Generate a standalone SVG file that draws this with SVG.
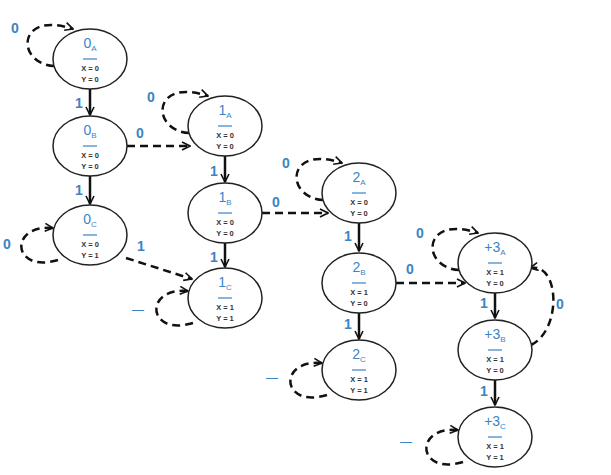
<svg xmlns="http://www.w3.org/2000/svg" width="611" height="475" viewBox="0 0 611 475">
<style>
.n{fill:#fff;stroke:#222;stroke-width:1.5}
.t{font-family:"Liberation Sans",Arial,sans-serif;fill:#3a84c6;font-size:14px;text-anchor:middle}
.s{font-size:8px}
.v{font-family:"Liberation Sans",Arial,sans-serif;font-weight:bold;font-size:7.5px;fill:#333;text-anchor:middle}
.d{fill:none;stroke:#3a84c6;stroke-width:1.2}
.l{font-family:"Liberation Sans",Arial,sans-serif;fill:#3a84c6;font-size:14px;font-weight:bold}
.m{font-family:"Liberation Sans",Arial,sans-serif;fill:#3a84c6;font-size:12px}
.sol{fill:none;stroke:#111;stroke-width:2.5;marker-end:url(#a)}
.das{fill:none;stroke:#111;stroke-width:2.5;stroke-dasharray:8 5;marker-end:url(#a)}
</style>
<defs>
<marker id="a" viewBox="0 0 10 10" refX="9" refY="5" markerWidth="4" markerHeight="4" orient="auto" markerUnits="strokeWidth">
<path d="M1,1 L9,5 L1,9" fill="none" stroke="#111" stroke-width="1.6"/>
</marker>
<g id="shape"><ellipse class="n" cx="0" cy="0" rx="37" ry="30"/><path class="d" d="M-7,0 H7"/></g>
</defs>
<g id="connectors">
<path class="sol" d="M90,89 V115"/>
<path class="sol" d="M90,176 V204"/>
<path class="sol" d="M225,156 V182"/>
<path class="sol" d="M225,243 V267"/>
<path class="sol" d="M359,223 V251"/>
<path class="sol" d="M359,313 V339"/>
<path class="sol" d="M495,293 V318"/>
<path class="sol" d="M495,380 V405"/>
<path class="das" d="M127,146 H190"/>
<path class="das" d="M126,258 L192,279"/>
<path class="das" d="M262,213 H328"/>
<path class="das" d="M396,283 H465"/>
<path class="das" d="M54,66 C16,64 16,10 73,29"/>
<path class="das" d="M189,133 C151,131 151,77 208,96"/>
<path class="das" d="M323,200 C285,198 285,144 342,163"/>
<path class="das" d="M459,270 C421,268 421,214 478,233"/>
<path class="das" d="M58,260 C12,274 8,224 53,228"/>
<path class="das" d="M193,323 C147,337 143,287 188,291"/>
<path class="das" d="M327,395 C281,409 277,359 322,363"/>
<path class="das" d="M463,462 C417,476 413,426 458,430"/>
<path class="das" d="M531,345 C562,330 560,262 530,268"/>
</g>
<g id="labels">
<text class="l" x="11" y="33">0</text>
<text class="l" x="75" y="108">1</text>
<text class="l" x="75" y="195">1</text>
<text class="l" x="136" y="138">0</text>
<text class="l" x="3" y="249">0</text>
<text class="l" x="137" y="251">1</text>
<text class="l" x="147" y="102">0</text>
<text class="l" x="210" y="176">1</text>
<text class="l" x="210" y="262">1</text>
<text class="l" x="272" y="207">0</text>
<text class="m" x="132" y="314">—</text>
<text class="l" x="282" y="168">0</text>
<text class="l" x="344" y="241">1</text>
<text class="l" x="344" y="329">1</text>
<text class="l" x="406" y="274">0</text>
<text class="m" x="266" y="382">—</text>
<text class="l" x="416" y="238">0</text>
<text class="l" x="480" y="308">1</text>
<text class="l" x="480" y="396">1</text>
<text class="l" x="556" y="309">0</text>
<text class="m" x="400" y="446">—</text>
</g>
<g id="n0A" transform="translate(90,59)"><use href="#shape"/><text class="t" y="-11">0<tspan class="s" dy="3">A</tspan></text><text class="v" y="12">X = 0</text><text class="v" y="23">Y = 0</text></g>
<g id="n0B" transform="translate(90,146)"><use href="#shape"/><text class="t" y="-11">0<tspan class="s" dy="3">B</tspan></text><text class="v" y="12">X = 0</text><text class="v" y="23">Y = 0</text></g>
<g id="n0C" transform="translate(90,235)"><use href="#shape"/><text class="t" y="-11">0<tspan class="s" dy="3">C</tspan></text><text class="v" y="12">X = 0</text><text class="v" y="23">Y = 1</text></g>
<g id="n1A" transform="translate(225,126)"><use href="#shape"/><text class="t" y="-11">1<tspan class="s" dy="3">A</tspan></text><text class="v" y="12">X = 0</text><text class="v" y="23">Y = 0</text></g>
<g id="n1B" transform="translate(225,213)"><use href="#shape"/><text class="t" y="-11">1<tspan class="s" dy="3">B</tspan></text><text class="v" y="12">X = 0</text><text class="v" y="23">Y = 0</text></g>
<g id="n1C" transform="translate(225,298)"><use href="#shape"/><text class="t" y="-11">1<tspan class="s" dy="3">C</tspan></text><text class="v" y="12">X = 1</text><text class="v" y="23">Y = 1</text></g>
<g id="n2A" transform="translate(359,193)"><use href="#shape"/><text class="t" y="-11">2<tspan class="s" dy="3">A</tspan></text><text class="v" y="12">X = 0</text><text class="v" y="23">Y = 0</text></g>
<g id="n2B" transform="translate(359,283)"><use href="#shape"/><text class="t" y="-11">2<tspan class="s" dy="3">B</tspan></text><text class="v" y="12">X = 1</text><text class="v" y="23">Y = 0</text></g>
<g id="n2C" transform="translate(359,370)"><use href="#shape"/><text class="t" y="-11">2<tspan class="s" dy="3">C</tspan></text><text class="v" y="12">X = 1</text><text class="v" y="23">Y = 1</text></g>
<g id="n3A" transform="translate(495,263)"><use href="#shape"/><text class="t" y="-11">+3<tspan class="s" dy="3">A</tspan></text><text class="v" y="12">X = 1</text><text class="v" y="23">Y = 0</text></g>
<g id="n3B" transform="translate(495,350)"><use href="#shape"/><text class="t" y="-11">+3<tspan class="s" dy="3">B</tspan></text><text class="v" y="12">X = 1</text><text class="v" y="23">Y = 0</text></g>
<g id="n3C" transform="translate(495,437)"><use href="#shape"/><text class="t" y="-11">+3<tspan class="s" dy="3">C</tspan></text><text class="v" y="12">X = 1</text><text class="v" y="23">Y = 1</text></g>
</svg>
